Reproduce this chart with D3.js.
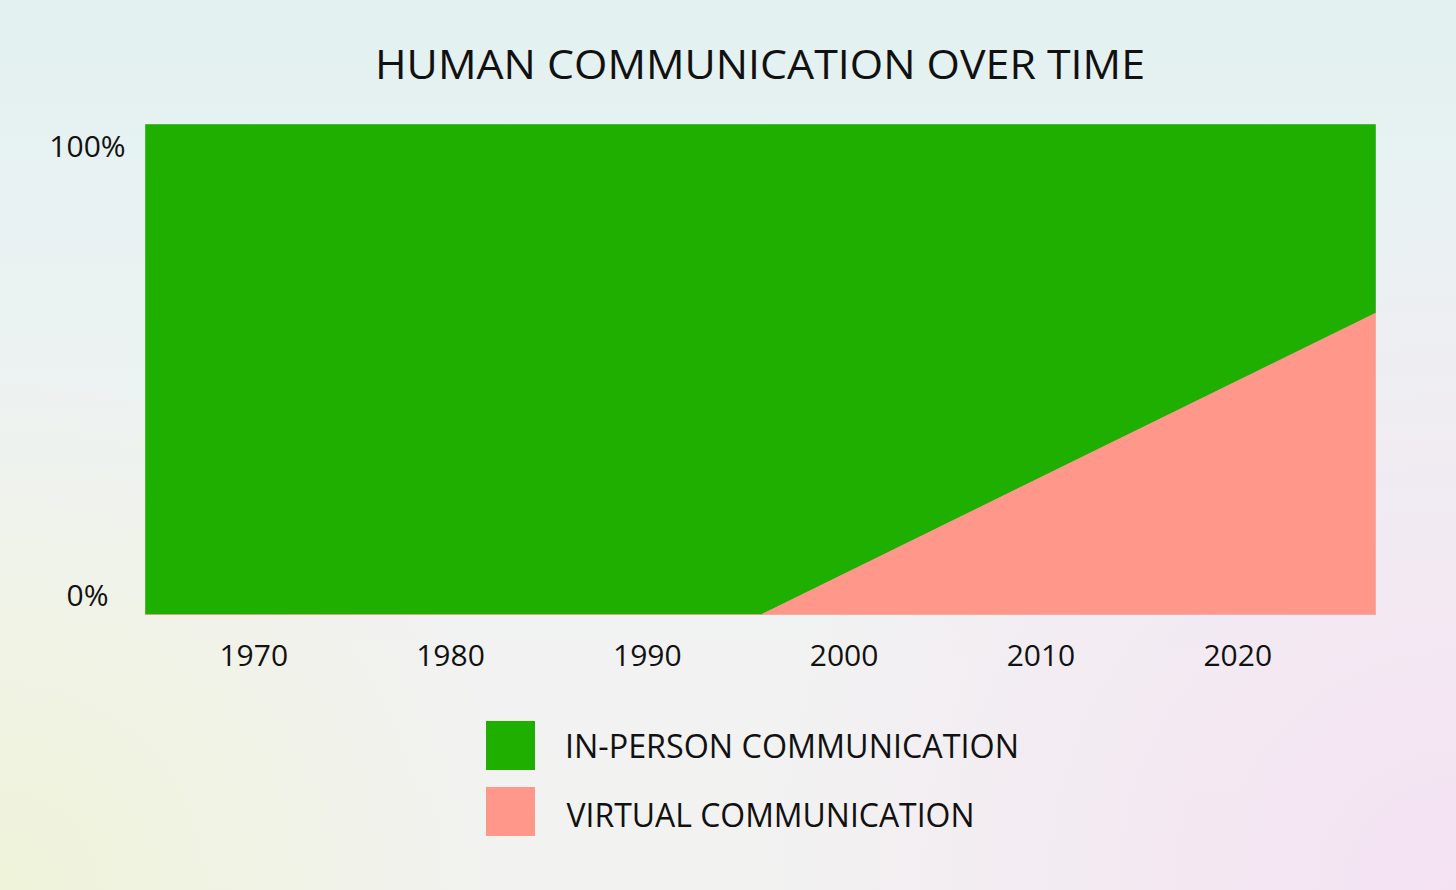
<!DOCTYPE html>
<html>
<head>
<meta charset="utf-8">
<script src="https://cdn.jsdelivr.net/npm/d3@7"></script>
<style>
  html, body { margin: 0; padding: 0; }
  body { width: 1456px; height: 890px; overflow: hidden; }
  svg { display: block; }
  text { font-family: "Open Sans", sans-serif; fill: #111; font-weight: 400; }
</style>
</head>
<body>
<svg id="chart" width="1456" height="890"></svg>
<script>
// ---- data ----
const title = "HUMAN COMMUNICATION OVER TIME";
const years = [1964.5, 1995.8, 2027];
const virtualShare = [0, 0, 61.5];
const inPersonShare = [100, 100, 38.5];
const seriesNames = ["IN-PERSON COMMUNICATION", "VIRTUAL COMMUNICATION"];
const seriesColors = ["#1faf00", "#ff978b"];
const xTicks = [1970, 1980, 1990, 2000, 2010, 2020];
const yTicks = [0, 100];
const yTickLabels = ["0%", "100%"];

// ---- layout ----
const W = 1456, H = 890;
const plot = { left: 145.5, right: 1375.5, top: 124.5, bottom: 614.5 };

const svg = d3.select("#chart");
const defs = svg.append("defs");

// background gradients
const lg = defs.append("linearGradient").attr("id", "bgTop").attr("x1", 0).attr("y1", 0).attr("x2", 0).attr("y2", 1);
lg.append("stop").attr("offset", "0%").attr("stop-color", "#e3f1f1");
lg.append("stop").attr("offset", "45%").attr("stop-color", "#edf2f2");
lg.append("stop").attr("offset", "75%").attr("stop-color", "#f2f2f2");
lg.append("stop").attr("offset", "100%").attr("stop-color", "#f2f2f1");

const rgY = defs.append("radialGradient").attr("id", "bgYellow")
  .attr("gradientUnits", "userSpaceOnUse").attr("cx", 0).attr("cy", H).attr("r", 520);
rgY.append("stop").attr("offset", "0%").attr("stop-color", "#eff3d9").attr("stop-opacity", 1);
rgY.append("stop").attr("offset", "100%").attr("stop-color", "#eff3d9").attr("stop-opacity", 0);

const rgP = defs.append("radialGradient").attr("id", "bgPink")
  .attr("gradientUnits", "userSpaceOnUse").attr("cx", W).attr("cy", H).attr("r", 700);
rgP.append("stop").attr("offset", "0%").attr("stop-color", "#f4e2f3").attr("stop-opacity", 1);
rgP.append("stop").attr("offset", "100%").attr("stop-color", "#f4e2f3").attr("stop-opacity", 0);

svg.append("rect").attr("width", W).attr("height", H).attr("fill", "url(#bgTop)");
svg.append("rect").attr("width", W).attr("height", H).attr("fill", "url(#bgYellow)");
svg.append("rect").attr("width", W).attr("height", H).attr("fill", "url(#bgPink)");

// ---- scales ----
const x = d3.scaleLinear().domain([years[0], years[years.length - 1]]).range([plot.left, plot.right]);
const y = d3.scaleLinear().domain([0, 100]).range([plot.bottom, plot.top]);

// ---- stacked data ----
const rows = years.map((yr, i) => ({ year: yr, virtual: virtualShare[i], inperson: inPersonShare[i] }));
const stack = d3.stack().keys(["virtual", "inperson"]);
const stacked = stack(rows);
const colorByKey = { inperson: seriesColors[0], virtual: seriesColors[1] };

const area = d3.area()
  .x(d => x(d.data.year))
  .y0(d => y(d[0]))
  .y1(d => y(d[1]));

svg.append("g").selectAll("path")
  .data([stacked[1], stacked[0]])
  .join("path")
  .attr("d", area)
  .attr("fill", d => colorByKey[d.key])
  .attr("stroke", d => colorByKey[d.key])
  .attr("stroke-width", 0.6);

// ---- x axis labels ----
svg.append("g").selectAll("text")
  .data(xTicks)
  .join("text")
  .attr("x", d => x(d))
  .attr("y", plot.bottom + 51)
  .attr("text-anchor", "middle")
  .attr("font-size", 30)
  .text(d => d);

// ---- y axis labels ----
svg.append("g").selectAll("text")
  .data(yTicks)
  .join("text")
  .attr("x", 87.5)
  .attr("y", d => d === 0 ? y(d) - 8.5 : y(d) + 32.5)
  .attr("text-anchor", "middle")
  .attr("font-size", 30)
  .text((d, i) => yTickLabels[i]);

// ---- title ----
svg.append("text")
  .attr("x", 760)
  .attr("y", 79)
  .attr("text-anchor", "middle")
  .attr("font-size", 40)
  .attr("textLength", 770)
  .attr("lengthAdjust", "spacingAndGlyphs")
  .text(title);

// ---- legend ----
const legendLengths = [454, 408];
const lgG = svg.append("g");
seriesNames.forEach((name, i) => {
  const top = 721 + i * 66;
  lgG.append("rect")
    .attr("x", 486).attr("y", top).attr("width", 49).attr("height", 49)
    .attr("fill", seriesColors[i]);
  lgG.append("text")
    .attr("x", 565 + i * 1.5)
    .attr("y", 757.5 + i * 69)
    .attr("font-size", 33)
    .attr("textLength", legendLengths[i])
    .attr("lengthAdjust", "spacingAndGlyphs")
    .text(name);
});
</script>
</body>
</html>
